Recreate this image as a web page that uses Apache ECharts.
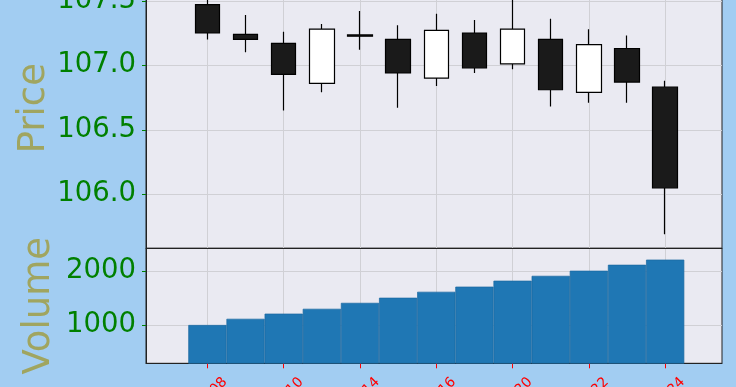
<!DOCTYPE html>
<html>
<head>
<meta charset="utf-8">
<script src="https://cdn.jsdelivr.net/npm/echarts@6/dist/echarts.min.js"></script>
<style>
html,body{margin:0;padding:0;background:#a2cdf2;}
#chart{width:736px;height:387px;}
</style>
</head>
<body>
<div id="chart"></div>
<script>
// ---- data ----
var dates  = ['Nov 08','Nov 09','Nov 10','Nov 13','Nov 14','Nov 15','Nov 16','Nov 17','Nov 20','Nov 21','Nov 22','Nov 23','Nov 24'];
var opens  = [107.47, 107.24, 107.17, 106.86, 107.235, 107.20, 106.90, 107.25, 107.01, 107.20, 106.79, 107.13, 106.83];
var closes = [107.25, 107.20, 106.93, 107.28, 107.225, 106.94, 107.27, 106.98, 107.28, 106.81, 107.16, 106.87, 106.05];
var lows   = [107.20, 107.10, 106.65, 106.79, 107.12, 106.67, 106.84, 106.94, 106.97, 106.68, 106.71, 106.71, 105.69];
var highs  = [107.56, 107.39, 107.26, 107.32, 107.42, 107.31, 107.40, 107.35, 107.60, 107.36, 107.28, 107.23, 106.88];
var volumes = [1000, 1115, 1210, 1300, 1410, 1505, 1615, 1710, 1820, 1910, 2005, 2115, 2210];
var xTickIdx = [0, 2, 4, 6, 8, 10, 12];
var priceTicks = [106.0, 106.5, 107.0, 107.5];
var volumeTicks = [1000, 2000];

var candleData = dates.map(function (d, i) { return [i, opens[i], closes[i], lows[i], highs[i]]; });
var volData = dates.map(function (d, i) { return [i, volumes[i]]; });

var FONT = 'DejaVu Sans';
var gridLine = {show: true, lineStyle: {color: '#d0d0d5', width: 1}};
var frameLine = {show: true, onZero: false, lineStyle: {color: '#222', width: 1}};

var chart = echarts.init(document.getElementById('chart'), null, {renderer: 'canvas'});
chart.setOption({
  backgroundColor: '#a2cdf2',
  animation: false,
  grid: [
    {left: 146, width: 576, top: -32, height: 280.3, containLabel: false, outerBoundsMode: 'none',
     show: true, backgroundColor: '#eaeaf2', borderColor: '#222', borderWidth: 1},
    {left: 146, width: 576, top: 248.3, height: 115, containLabel: false, outerBoundsMode: 'none',
     show: true, backgroundColor: '#eaeaf2', borderColor: '#222', borderWidth: 1}
  ],
  xAxis: [
    {type: 'value', gridIndex: 0, min: -1.61, max: 13.49, splitNumber: 7, position: 'bottom',
     axisLine: frameLine, axisTick: {show: false, customValues: xTickIdx},
     axisLabel: {show: false, customValues: xTickIdx}, splitLine: gridLine},
    {type: 'value', gridIndex: 1, min: -1.61, max: 13.49, splitNumber: 7, position: 'bottom',
     axisLine: frameLine,
     axisTick: {show: true, length: 5, customValues: xTickIdx, lineStyle: {color: '#ff0000'}},
     axisLabel: {show: true, customValues: xTickIdx, rotate: 45, align: 'center', verticalAlign: 'middle',
                 margin: 34, color: '#ff0000', fontFamily: FONT, fontSize: 14, hideOverlap: false,
                 formatter: function (v) { return dates[Math.round(v)] || ''; }},
     splitLine: gridLine}
  ],
  yAxis: [
    {type: 'value', gridIndex: 0, min: 105.581, max: 107.754, position: 'left',
     name: 'Price', nameLocation: 'middle', nameRotate: 90, nameGap: 93, nameMoveOverlap: false,
     nameTextStyle: {color: '#a0a560', fontFamily: FONT, fontSize: 37},
     axisLine: frameLine,
     axisTick: {show: true, length: 4, customValues: priceTicks, lineStyle: {color: '#008000', width: 1}},
     axisLabel: {customValues: priceTicks, margin: 10, color: '#008000', fontFamily: FONT, fontSize: 27.5,
                 formatter: function (v) { return v.toFixed(1); }},
     splitLine: gridLine},
    {type: 'value', gridIndex: 1, min: 291, max: 2420, position: 'left',
     name: 'Volume', nameLocation: 'middle', nameRotate: 90, nameGap: 88, nameMoveOverlap: false,
     nameTextStyle: {color: '#a0a560', fontFamily: FONT, fontSize: 37},
     axisLine: frameLine,
     axisTick: {show: true, length: 4, customValues: volumeTicks, lineStyle: {color: '#008000', width: 1}},
     axisLabel: {customValues: volumeTicks, margin: 10, color: '#008000', fontFamily: FONT, fontSize: 27.5,
                 formatter: function (v) { return String(Math.round(v)); }},
     splitLine: gridLine}
  ],
  series: [
    {type: 'candlestick', xAxisIndex: 0, yAxisIndex: 0, data: candleData,
     encode: {x: 0, y: [1, 2, 3, 4]}, barWidth: 25,
     itemStyle: {color: '#ffffff', color0: '#1a1a1a', borderColor: '#000000', borderColor0: '#000000', borderWidth: 1.2}},
    {type: 'bar', xAxisIndex: 1, yAxisIndex: 1, data: volData, barWidth: 38.2,
     itemStyle: {color: '#1f77b4', borderColor: '#1b69a0', borderWidth: 0.7}}
  ]
});
</script>
</body>
</html>
